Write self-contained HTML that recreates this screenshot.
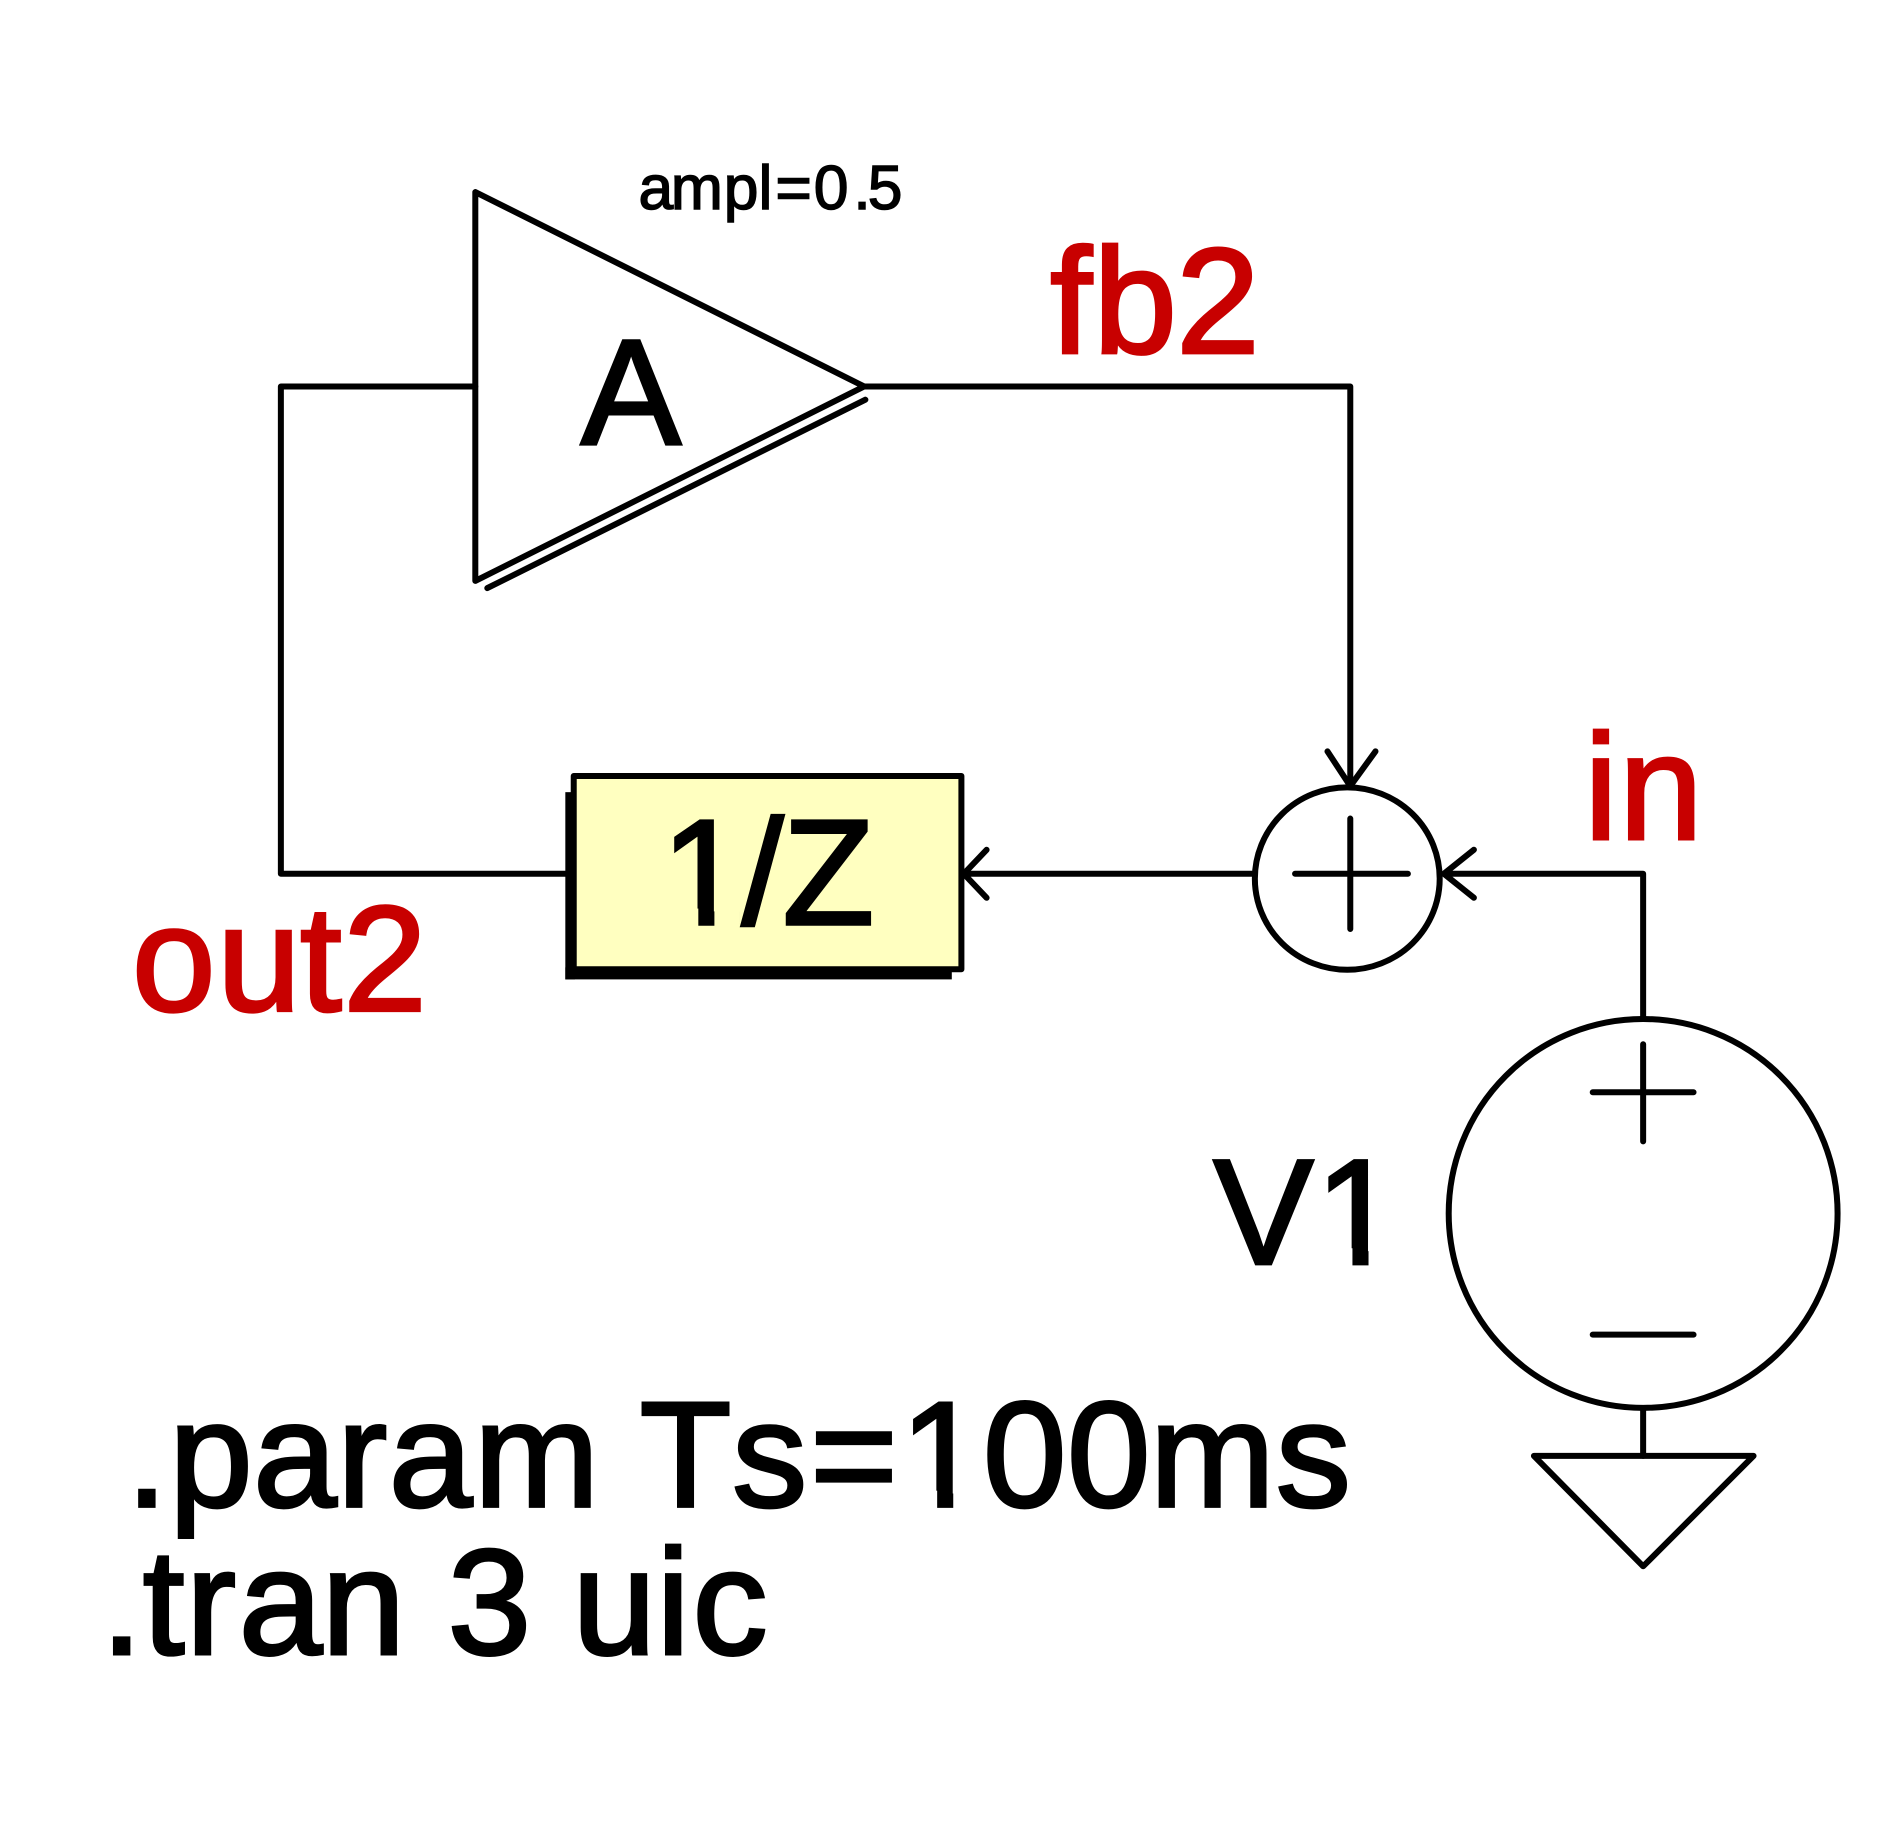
<!DOCTYPE html>
<html><head><meta charset="utf-8"><style>
html,body{margin:0;padding:0;background:#fff;width:1882px;height:1821px;overflow:hidden}
svg{display:block}
text{font-family:"Liberation Sans",Arial,sans-serif;font-size:125px;stroke-width:2.6px;stroke:#000;fill:#000}
text.r{fill:#c80000;stroke:#c80000}
</style></head><body>
<svg width="1882" height="1821" viewBox="0 0 1568 1517.2" xmlns="http://www.w3.org/2000/svg">
<rect width="1568" height="1518" fill="#fff"/>
<g fill="none" stroke="#000" stroke-width="5" stroke-linecap="round" stroke-linejoin="round">
<path d="M396 160V484L720 322Z"/>
<path d="M406 490L721 333"/>
<path d="M396 322H234V728H472"/>
<path d="M720 322H1125V655"/>
<path d="M1106 626L1125 655L1146 626"/>
<rect x="478" y="646.500" width="323" height="161" fill="#ffffc0"/>
<ellipse cx="1122.500" cy="732" rx="77" ry="76"/>
<path d="M1079 728H1173M1125 682V774"/>
<path d="M1045 728H805M822 708L803 728L822 748"/>
<path d="M1369 848V728H1203M1228 708L1203 728L1228 748"/>
<circle cx="1369" cy="1011" r="162"/>
<path d="M1327 910H1411M1369 870V951M1327 1112H1411M1369 1174V1213"/>
<path d="M1278 1213H1461L1369 1305Z"/>
</g>
<rect x="471" y="660" width="8" height="156" fill="#000"/>
<rect x="471" y="806" width="322" height="10" fill="#000"/>
<text x="484" y="370">A</text>
<text x="551 618 652" y="770">1/Z</text>
<text class="r" x="875 911 980" y="294">fb2</text>
<text class="r" x="1320 1349" y="699">in</text>
<text class="r" x="110 181 250 286" y="842">out2</text>
<text x="1011 1096" y="1053">V1</text>
<text x="105 141 211 281 324 395 500 533 610 675 750 819 889 958 1063" y="1255">.param Ts=100ms</text>
<text x="84 119 155 199 268 340 373 440 477 547 577" y="1378">.tran 3 uic</text>
<text x="532 559 603 632 646 678 711 723" y="174" style="font-size:52px;stroke-width:1.2px">ampl=0.5</text>
<g fill="#ffffc0">
<rect x="554" y="757" width="27.800" height="16"/>
<rect x="595.200" y="757" width="20.500" height="16"/>
</g>
<g fill="#fff">
<rect x="1099" y="1040" width="27.800" height="16"/>
<rect x="1140.200" y="1040" width="25.500" height="16"/>
<rect x="752" y="1242" width="28.800" height="16"/>
<rect x="794.200" y="1242" width="22.500" height="16"/>
</g>
</svg>
</body></html>
